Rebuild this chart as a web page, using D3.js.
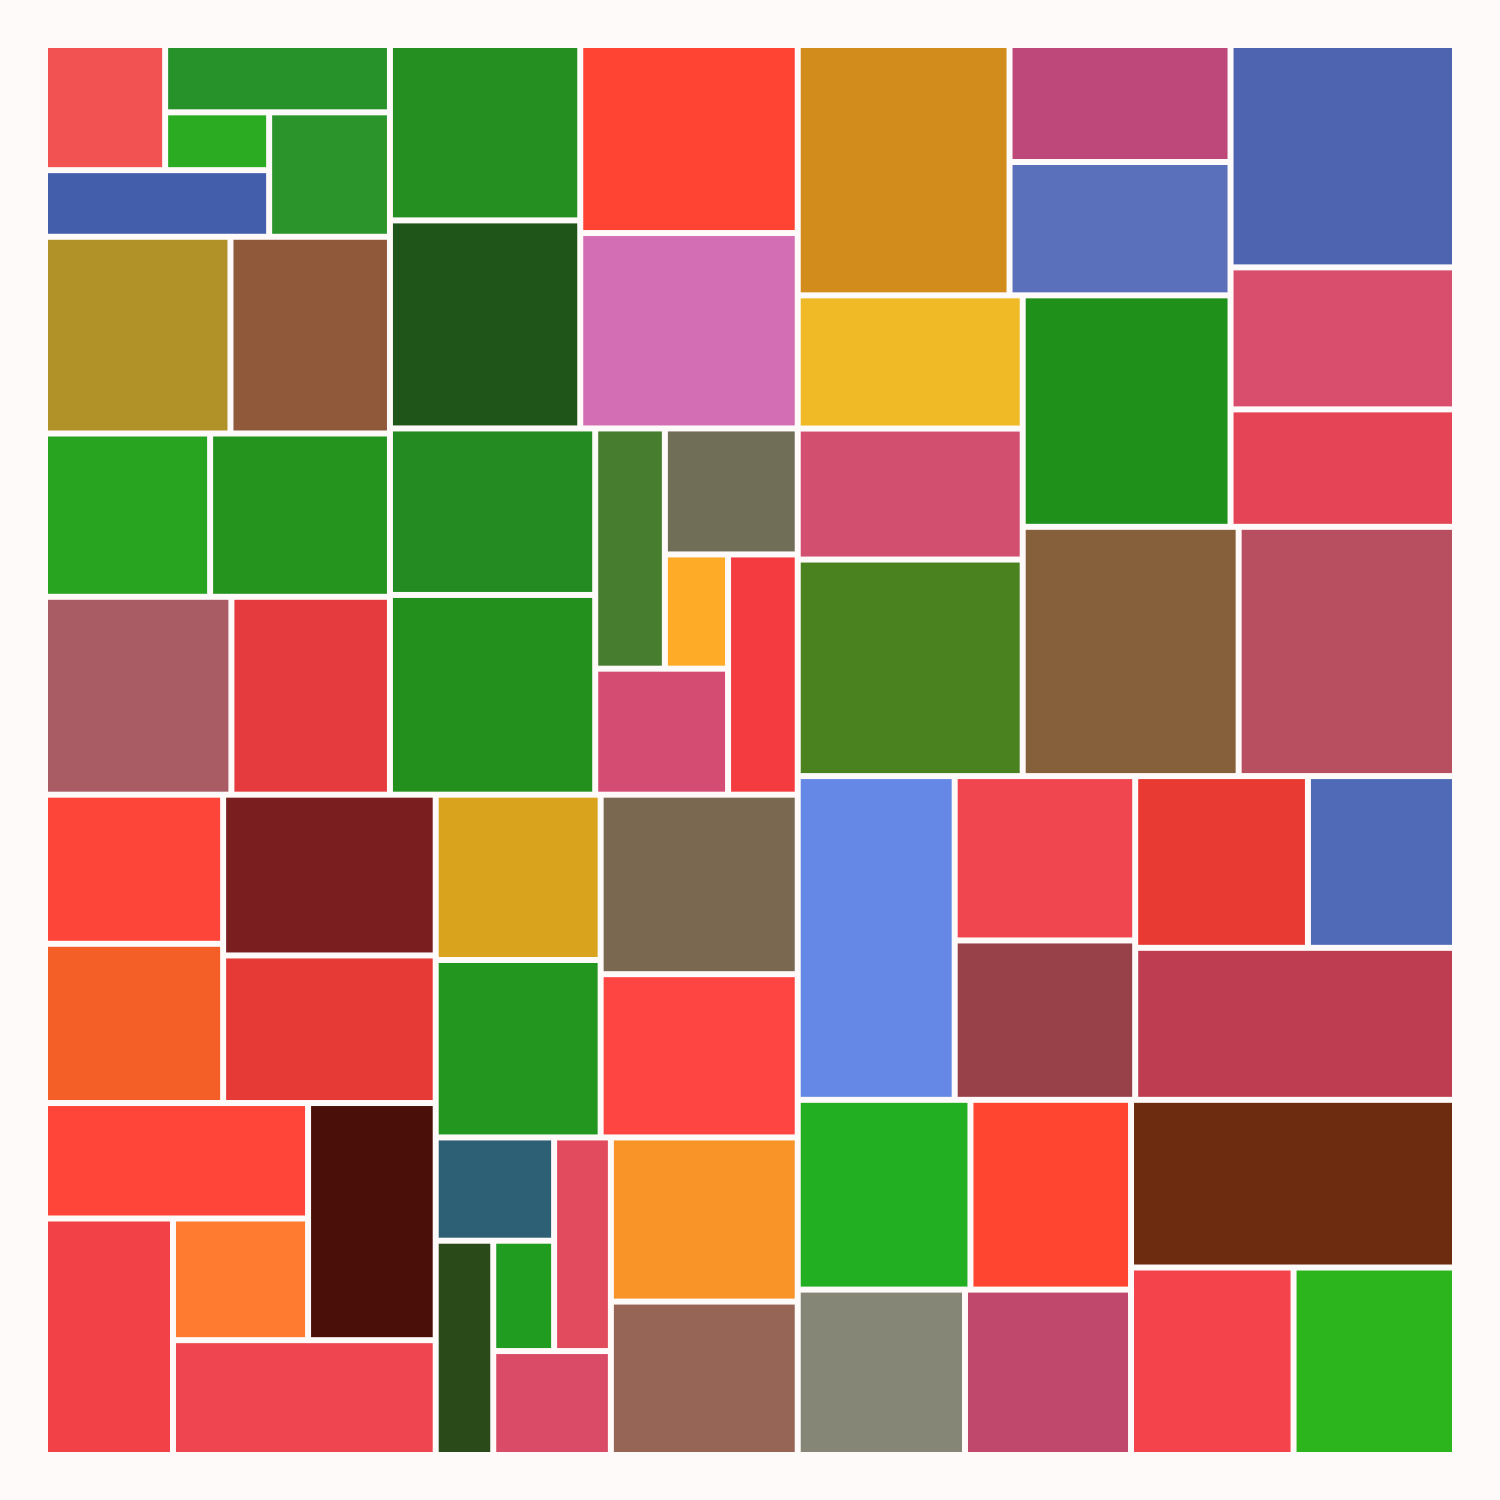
<!DOCTYPE html>
<html>
<head>
<meta charset="utf-8">
<script src="https://cdn.jsdelivr.net/npm/d3@7"></script>
<style>
  body { margin: 0; background: #fffafa; }
</style>
</head>
<body>
<div class="content"></div>
<script>
// leaf sizes (area units)
const leafValues = [
  150, 151, 150, 149, 60,
  364, 313, 269, 293, 368, 313,
  333, 395, 408, 424,
  341, 409, 167, 167, 167, 167, 72,
  265, 283, 341, 313,
  303, 302, 301, 302, 164,
  272, 292, 353, 321,
  122, 121, 122, 123, 67, 306, 286,
  529, 258, 294, 498, 318, 263, 537, 538, 299, 294, 486, 480,
  507, 296, 287, 296, 252, 485,
  327, 304, 276, 274, 542, 304, 302
];

const leafColors = [
  "#f25252", "#27922a", "#2b952b", "#435fac", "#2aab22",
  "#b19229", "#8f593a", "#28a421", "#24941f", "#a95c63", "#e63b3e",
  "#258f22", "#205519", "#ff4433", "#d36eb5",
  "#248b23", "#238f1c", "#477d2f", "#716e57", "#f43c40", "#d54c72", "#feab27",
  "#fe4539", "#f45f28", "#7a1e1f", "#e63a37",
  "#ff4539", "#4b0f09", "#ef4550", "#f34148", "#fe7b2f",
  "#d9a31e", "#22961f", "#7a6950", "#fe4541",
  "#2d6074", "#e24a5d", "#da4b67", "#2a4a1a", "#209c20", "#f99429", "#966556",
  "#d18c1c", "#be4879", "#5b70ba", "#4e64b0", "#d94e6c", "#e44455",
  "#86603b", "#b84f60", "#efba25", "#d24f6f", "#4b8220", "#1f911b",
  "#6588e6", "#ef4650", "#994149", "#e83a33", "#506ab7", "#be3d50",
  "#22b022", "#ff4530", "#868677", "#c1486d", "#6d2c10", "#f4434a", "#2db51e"
];

// nesting of the leaves: [arrangement, ...children]
// h = side by side, v = stacked, cw / ccw = four blocks turning round a centre one
const groups =
  ["h",
    ["v",
      ["h",
        ["v", ["cw", 0, 1, 2, 3, 4], ["h", 5, 6], ["h", 7, 8], ["h", 9, 10]],
        ["v", ["h", ["v", 11, 12], ["v", 13, 14]],
              ["h", ["v", 15, 16], ["cw", 17, 18, 19, 20, 21]]]],
      ["h",
        ["v", ["h", ["v", 22, 23], ["v", 24, 25]], ["ccw", 26, 27, 28, 29, 30]],
        ["v", ["h", ["v", 31, 32], ["v", 33, 34]],
              ["h", ["ccw", 35, 36, 37, 38, 39], ["v", 40, 41]]]]],
    ["v",
      ["ccw", ["h", 42, ["v", 43, 44]], ["v", 45, 46, 47], ["h", 48, 49], ["v", 50, 51, 52], 53],
      ["v",
        ["h", 54, ["v", 55, 56], ["v", ["h", 57, 58], 59]],
        ["h", ["v", ["h", 60, 61], ["h", 62, 63]], ["v", 64, ["h", 65, 66]]]]]];

var margin = 48,
    size = 1500 - 2 * margin;

function build(g) {
  if (typeof g === "number") return {id: g, value: leafValues[g]};
  return {split: g[0], children: g.slice(1).map(build)};
}

// pinwheel: a top-left, b top-right, c bottom-right, d bottom-left, e centre
function pinwheel(node, x0, y0, x1, y1, mirror) {
  var kids = node.children,
      W = x1 - x0, H = y1 - y0,
      k = W * H / node.value;
  var v = kids.slice(0, 4).map(function(c) { return c.value * k; });
  if (mirror) v = [v[1], v[0], v[3], v[2]];
  var A = v[0], B = v[1], C = v[2], D = v[3];
  var yd = H * 0.6, xa, yb, xc;
  for (var i = 0; i < 400; i++) {
    xa = A / yd;
    yb = B / (W - xa);
    xc = W - C / (H - yb);
    yd = H - D / xc;
  }
  var r = [[0, xa, 0, yd], [xa, W, 0, yb], [xc, W, yb, H], [0, xc, yd, H], [xa, xc, yb, yd]];
  var order = mirror ? [1, 0, 3, 2, 4] : [0, 1, 2, 3, 4];
  kids.forEach(function(c, j) {
    var q = r[order[j]];
    var l = q[0], rr = q[1];
    if (mirror) { l = W - q[1]; rr = W - q[0]; }
    c.x0 = x0 + l; c.x1 = x0 + rr;
    c.y0 = y0 + q[2]; c.y1 = y0 + q[3];
  });
}

function tile(node, x0, y0, x1, y1) {
  var s = node.data.split;
  if (s === "h") d3.treemapDice(node, x0, y0, x1, y1);
  else if (s === "v") d3.treemapSlice(node, x0, y0, x1, y1);
  else pinwheel(node, x0, y0, x1, y1, s === "ccw");
}

var root = d3.hierarchy(build(groups))
    .sum(function(d) { return d.value || 0; });

d3.treemap()
    .size([size, size])
    .paddingInner(6)
    .tile(tile)(root);

var svg = d3.select(".content")
    .append("svg")
    .attr("width", 1500)
    .attr("height", 1500)
    .style("background", "#fffafa")
    .append("g")
    .attr("transform", "translate(" + margin + "," + margin + ")");

svg.selectAll("rect")
    .data(root.leaves())
    .enter()
    .append("rect")
    .attr("x", function(d) { return d.x0; })
    .attr("y", function(d) { return d.y0; })
    .attr("width", function(d) { return d.x1 - d.x0; })
    .attr("height", function(d) { return d.y1 - d.y0; })
    .attr("fill", function(d) { return leafColors[d.data.id]; });
</script>
</body>
</html>
